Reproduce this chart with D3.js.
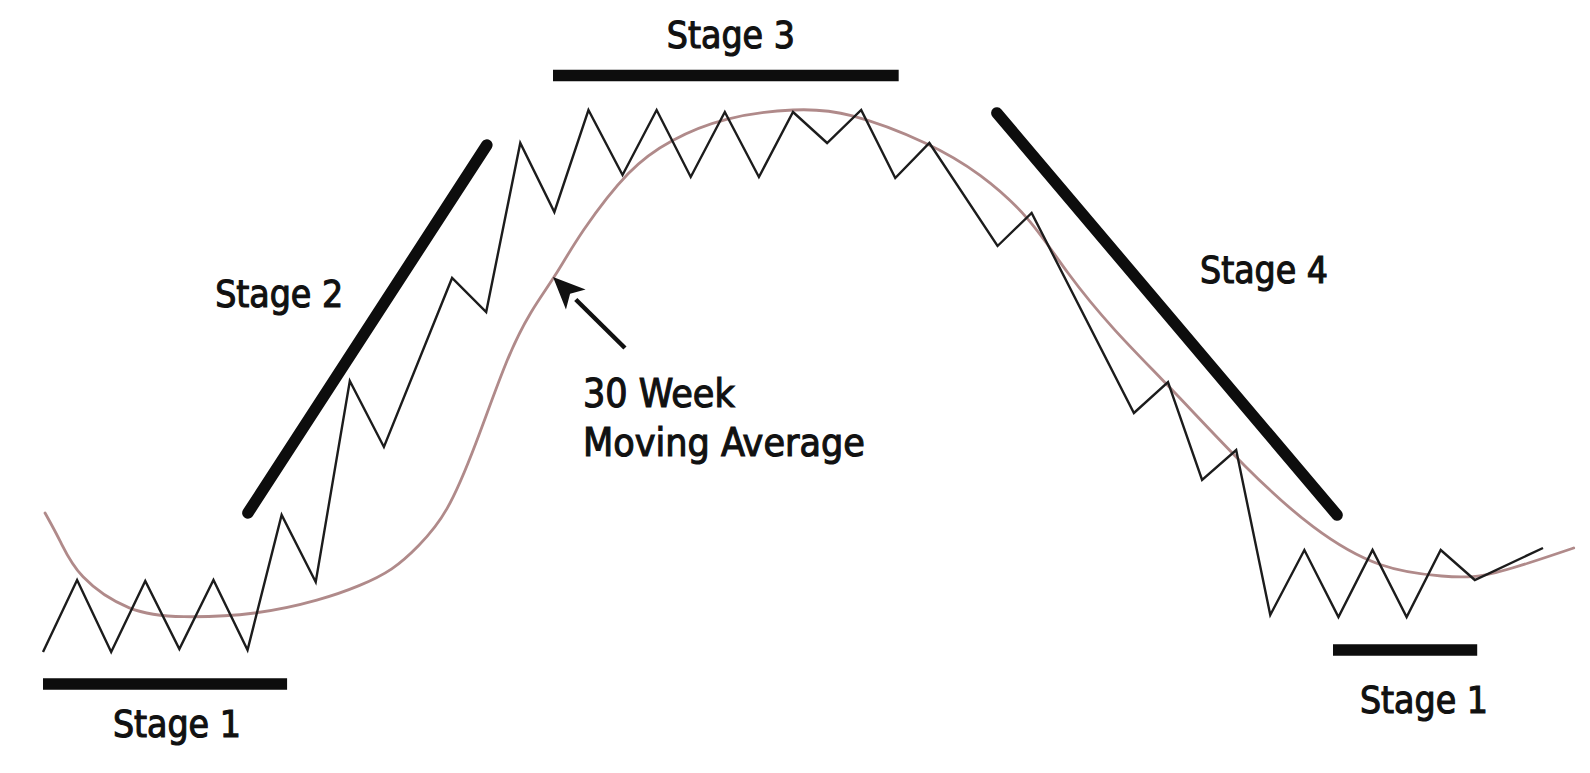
<!DOCTYPE html>
<html>
<head>
<meta charset="utf-8">
<script src="https://cdn.jsdelivr.net/npm/d3@7"></script>
<style>
  body { margin: 0; background: #fff; }
  svg { display: block; }
  .lbl { font-family: "DejaVu Sans Condensed", "DejaVu Sans", sans-serif; fill: #111; stroke: #111; stroke-width: 1.1px; }
</style>
</head>
<body>
<svg id="chart" width="1590" height="773"></svg>
<script>
// price swings (x = period, y = price)
const weeks = [0,1,2,3,4,5,6,7,8,9,10,12,13,14,15,16,17,18,19,20,21,22,23,24,25,26,28,29,32,33,34,35,36,37,38,39,40,41,42,44];
const price = [3.8,11.0,3.8,10.9,4.1,11.0,4.0,17.5,10.8,30.9,24.3,41.2,37.8,54.7,47.8,58.0,51.5,58.0,51.3,57.8,51.3,57.8,54.7,58.0,51.2,54.7,44.4,47.7,27.7,30.8,21.0,24.0,7.5,14.0,7.3,14.0,7.3,14.0,11.0,14.2];

// 30 week moving average
const maWeeks  = [0.06,0.5,1.0,2.55,3.99,6.28,8.15,9.3,10.27,11.0,11.85,12.7,13.61,14.3,15.02,15.75,17.22,18.39,19.95,22.12,23.58,26.02,27.49,28.95,30.0,31.39,33.06,35.32,37.25,39.22,41.19,42.15,43.6,44.9,44.9];
const maValues = [17.7,15.0,11.3,7.7,7.2,7.5,9.0,10.4,12.0,14.3,17.5,24.5,33.3,37.9,41.3,45.7,52.3,55.0,57.3,58.2,57.9,54.7,51.7,47.3,41.8,36.0,30.3,22.0,16.0,12.0,11.3,11.2,12.7,14.2,14.2];

// stage markers
const stageNames = ["Stage 1", "Stage 2", "Stage 3", "Stage 4", "Stage 1"];
const stageX0 = [0, 6.01, 14.96, 27.98, 37.84];
const stageY0 = [0.6, 17.7, 61.45, 57.7, 4.0];
const stageX1 = [7.16, 13.02, 25.1, 37.96, 42.07];
const stageY1 = [0.6, 54.5, 61.45, 17.5, 4.0];
const labelX = [2.05, 5.05, 18.3, 33.94, 38.63];
const labelY = [-4.7, 38.3, 64.2, 40.7, -2.3];

// moving average callout
const maNote = ["30 Week", "Moving Average"];
const maNoteX = 15.84;
const maNoteY = [28.3, 23.4];
const arrowFrom = [17.07, 34.2];
const arrowTo = [14.96, 41.3];

const svg = d3.select('#chart');

const x = d3.scaleLinear().domain([0, 44]).range([43, 1543]);
const y = d3.scaleLinear().domain([0, 60]).range([690, 90]);

// moving average
const maLine = d3.line()
  .x(d => x(d[0]))
  .y(d => y(d[1]))
  .curve(d3.curveBasis);

svg.append('path')
  .datum(d3.zip(maWeeks, maValues))
  .attr('d', maLine)
  .attr('fill', 'none')
  .attr('stroke', '#b08a8a')
  .attr('stroke-width', 2.8)
  .attr('stroke-linecap', 'round');

// price zigzag
const priceLine = d3.line()
  .x(d => x(d[0]))
  .y(d => y(d[1]));

svg.append('path')
  .datum(d3.zip(weeks, price))
  .attr('d', priceLine)
  .attr('fill', 'none')
  .attr('stroke', '#1c1c1c')
  .attr('stroke-width', 2.4)
  .attr('stroke-linejoin', 'miter');

// stage bars / trend lines
svg.selectAll('line.stage')
  .data(stageNames)
  .join('line')
  .attr('class', 'stage')
  .attr('x1', (d, i) => x(stageX0[i]))
  .attr('y1', (d, i) => y(stageY0[i]))
  .attr('x2', (d, i) => x(stageX1[i]))
  .attr('y2', (d, i) => y(stageY1[i]))
  .attr('stroke', '#0d0d0d')
  .attr('stroke-width', 11.5)
  .attr('stroke-linecap', (d, i) => stageY0[i] === stageY1[i] ? 'butt' : 'round');

svg.selectAll('text.stage')
  .data(stageNames)
  .join('text')
  .attr('class', 'lbl stage')
  .attr('x', (d, i) => x(labelX[i]))
  .attr('y', (d, i) => y(labelY[i]))
  .style('font-size', '37px')
  .text(d => d);

// callout text
svg.selectAll('text.note')
  .data(maNote)
  .join('text')
  .attr('class', 'lbl note')
  .attr('x', x(maNoteX))
  .attr('y', (d, i) => y(maNoteY[i]))
  .style('font-size', '39px')
  .text(d => d);

// arrow pointing at the average
const ax0 = x(arrowFrom[0]), ay0 = y(arrowFrom[1]);
const ax1 = x(arrowTo[0]), ay1 = y(arrowTo[1]);
const ang = Math.atan2(ay1 - ay0, ax1 - ax0);
const headLen = 32, headW = 14;
const bx = ax1 - headLen * Math.cos(ang), by = ay1 - headLen * Math.sin(ang);

svg.append('line')
  .attr('x1', ax0).attr('y1', ay0)
  .attr('x2', bx).attr('y2', by)
  .attr('stroke', '#111')
  .attr('stroke-width', 4.5);

svg.append('polygon')
  .attr('points', [
    [ax1, ay1],
    [bx + headW * Math.sin(ang), by - headW * Math.cos(ang)],
    [bx + 8 * Math.cos(ang), by + 8 * Math.sin(ang)],
    [bx - headW * Math.sin(ang), by + headW * Math.cos(ang)]
  ].map(p => p.join(',')).join(' '))
  .attr('fill', '#111');
</script>
</body>
</html>
